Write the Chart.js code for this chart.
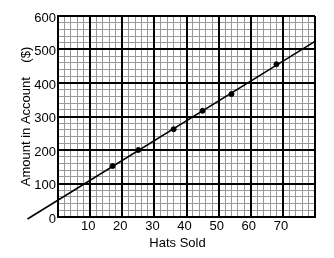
<!DOCTYPE html>
<html>
<head>
<meta charset="utf-8">
<script src="https://cdn.jsdelivr.net/npm/chart.js@4/dist/chart.umd.min.js"></script>
<style>
  body { margin: 0; background: #fff; }
</style>
</head>
<body>
<canvas id="hats-chart" width="334" height="258"></canvas>
<script>
  // Data
  const hatsSold = [17, 25, 36, 45, 54, 68];
  const amounts = [152, 200, 262, 317, 367, 456];
  // best fit line, runs past the axes at the lower left
  const lineX = [-9.5, 80];
  const lineY = [-6, 524];

  const xTickLabels = [10, 20, 30, 40, 50, 60, 70];
  const yTickLabels = [0, 100, 200, 300, 400, 500, 600];

  const font = { family: "'Liberation Sans', Arial, sans-serif", size: 13 };

  // the heavy lines every 10 hats / $100 sit on their own hidden scales,
  // drawn on top of the light graph paper lines
  const majorScale = (pos, max, step, fit) => ({
    type: 'linear',
    position: pos,
    min: 0,
    max: max,
    afterFit: fit,
    ticks: { display: false, stepSize: step },
    grid: { drawTicks: false, color: '#000', lineWidth: 2, z: 1 },
    border: { display: false }
  });

  const ctx = document.getElementById('hats-chart').getContext('2d');
  new Chart(ctx, {
    type: 'scatter',
    data: {
      datasets: [
        {
          label: 'Fit',
          data: lineX.map((x, i) => ({ x: x, y: lineY[i] })),
          showLine: true,
          borderColor: '#000',
          borderWidth: 1.5,
          pointRadius: 0,
          clip: false
        },
        {
          label: 'Hats',
          data: hatsSold.map((x, i) => ({ x: x, y: amounts[i] })),
          backgroundColor: '#000',
          borderColor: '#000',
          pointRadius: 2.5,
          clip: false
        }
      ]
    },
    options: {
      responsive: false,
      animation: false,
      layout: { padding: { left: 0, right: 19, top: 16, bottom: 0 } },
      plugins: {
        legend: { display: false },
        tooltip: { enabled: false }
      },
      scales: {
        x: {
          type: 'linear',
          min: 0,
          max: 80,
          afterFit: (scale) => { scale.height = 41; },
          ticks: {
            stepSize: 2,
            autoSkip: false,
            maxRotation: 0,
            padding: 2,
            labelOffset: -2,
            color: '#000',
            font: font,
            callback: (v) => xTickLabels.includes(v) ? String(v) : ''
          },
          grid: { drawTicks: false, color: '#999', lineWidth: 1 },
          border: { display: true, color: '#000', width: 2 },
          title: {
            display: true,
            // trailing spaces pull the title a bit left of the plot centre, like the original
            text: 'Hats Sold\u00a0\u00a0\u00a0\u00a0\u00a0',
            color: '#000',
            font: font,
            padding: { top: 0, bottom: 7 }
          }
        },
        y: {
          type: 'linear',
          min: 0,
          max: 600,
          afterFit: (scale) => { scale.width = 58; },
          ticks: {
            stepSize: 20,
            autoSkip: false,
            padding: 2,
            labelOffset: 2,
            color: '#000',
            font: font,
            callback: (v) => yTickLabels.includes(v) ? String(v) : ''
          },
          grid: { drawTicks: false, color: '#999', lineWidth: 1 },
          border: { display: true, color: '#000', width: 2 },
          title: {
            display: true,
            text: 'Amount in Account    ($)',
            color: '#000',
            font: font,
            padding: { top: 19, bottom: 0 }
          }
        },
        xMajor: majorScale('bottom', 80, 10, (scale) => { scale.height = 0; }),
        yMajor: majorScale('left', 600, 100, (scale) => { scale.width = 0; })
      }
    }
  });
</script>
</body>
</html>
